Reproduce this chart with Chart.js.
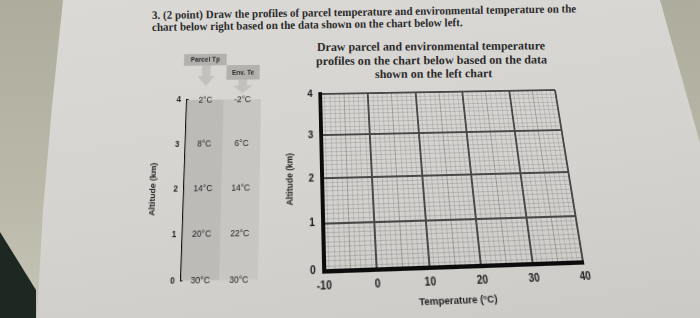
<!DOCTYPE html>
<html>
<head>
<meta charset="utf-8">
<title>Parcel and environmental temperature</title>
<script src="https://cdn.jsdelivr.net/npm/chart.js@4.4.1/dist/chart.umd.min.js"></script>
<style>
  html, body { margin: 0; padding: 0; }
  body { position: relative; width: 700px; height: 318px; overflow: hidden; background: #b2b0a0; }
  .wall { position: absolute; inset: 0; background: linear-gradient(180deg, #aeac9c 0%, #bab8a8 60%, #c6c4b6 100%); }
  .wall-dark { position: absolute; inset: 0; background: #1d2822; clip-path: polygon(0 232px, 36px 290px, 36px 318px, 0 318px); }
  .paper { position: absolute; inset: 0; background: linear-gradient(170deg, #dbd9d6 0%, #d5d3d0 55%, #cccac7 100%);
           clip-path: polygon(63px 0, 660px 0, 700px 143px, 700px 318px, 37px 318px, 43px 210px, 52px 106px); }
  .note { position: absolute; white-space: nowrap; font-family: "Liberation Serif", serif; font-weight: bold;
          color: #2b2b2b; line-height: 14px; transform-origin: 0 50%; }
  canvas { position: absolute; left: 0; top: 0; transform-origin: 0 0; }
</style>
</head>
<body>
<div class="wall"></div>
<div class="wall-dark"></div>
<div class="paper"></div>

<div class="note" id="q1">3. (2 point) Draw the profiles of parcel temperature and environmental temperature on the</div>
<div class="note" id="q2">chart below right based on the data shown on the chart below left.</div>
<div class="note" id="r1">Draw parcel and environmental temperature</div>
<div class="note" id="r2">profiles on the chart below based on the data</div>
<div class="note" id="r3">shown on the left chart</div>

<canvas id="leftChart" width="130" height="245"></canvas>
<canvas id="rightChart" width="310" height="230"></canvas>

<script>
// Data
const columns = ['Parcel Tp', 'Env. Te'];
const altitudes = [0, 1, 2, 3, 4];
const parcelTemps = [30, 20, 14, 8, 2];
const envTemps = [30, 22, 14, 6, -2];

// Axes of the blank chart on the right
const tempTicks = [-10, 0, 10, 20, 30, 40];
const altitudeTicks = [0, 1, 2, 3, 4];

Chart.defaults.font.family = '"Liberation Sans", Arial, sans-serif';
Chart.defaults.color = '#1e1e1e';

// Text lines of the worksheet (left edge, centre y, width, tilt)
const notes = [
    { id: 'q1', x: 152, y: 14.5, w: 424, rot: -0.9, size: 11.5 },
    { id: 'q2', x: 152, y: 27, w: 311, rot: -0.9, size: 11.5 },
    { id: 'r1', x: 317, y: 47, w: 228, rot: -0.4, size: 12 },
    { id: 'r2', x: 316, y: 60.5, w: 231, rot: -0.4, size: 12 },
    { id: 'r3', x: 375, y: 73.5, w: 117, rot: -0.4, size: 12 }
];

notes.forEach(n => {
    const el = document.getElementById(n.id);
    el.style.fontSize = n.size + 'px';
    el.style.left = n.x + 'px';
    el.style.top = (n.y - 7) + 'px';
    const s = n.w / el.offsetWidth;
    el.style.transform = `rotate(${n.rot}deg) scaleX(${s})`;
});

// Solve the projective map that puts a chart area onto the photographed quad
function solve(A, b) {
    const n = b.length;
    for (let i = 0; i < n; i++) {
        let p = i;
        for (let r = i + 1; r < n; r++) if (Math.abs(A[r][i]) > Math.abs(A[p][i])) p = r;
        [A[i], A[p]] = [A[p], A[i]];
        [b[i], b[p]] = [b[p], b[i]];
        for (let r = i + 1; r < n; r++) {
            const f = A[r][i] / A[i][i];
            for (let c = i; c < n; c++) A[r][c] -= f * A[i][c];
            b[r] -= f * b[i];
        }
    }
    const x = new Array(n).fill(0);
    for (let i = n - 1; i >= 0; i--) {
        let s = b[i];
        for (let c = i + 1; c < n; c++) s -= A[i][c] * x[c];
        x[i] = s / A[i][i];
    }
    return x;
}

function warpChart(chart, quad) {
    const a = chart.chartArea;
    const src = [[a.left, a.top], [a.right, a.top], [a.left, a.bottom], [a.right, a.bottom]];
    const A = [], b = [];
    src.forEach(([x, y], i) => {
        const [u, v] = quad[i];
        A.push([x, y, 1, 0, 0, 0, -u * x, -u * y]); b.push(u);
        A.push([0, 0, 0, x, y, 1, -v * x, -v * y]); b.push(v);
    });
    const h = solve(A, b);
    chart.canvas.style.transform =
        `matrix3d(${h[0]},${h[3]},0,${h[6]},${h[1]},${h[4]},0,${h[7]},0,0,1,0,${h[2]},${h[5]},0,1)`;
}

// Header boxes with arrows and the temperature labels of the left chart
const headerLayout = [
    { boxTop: -47, boxHeight: 12, left: -5, right: 2, tip: -14, headLen: 10, shaft: 10, head: 20 },
    { boxTop: -35, boxHeight: 15, left: 2, right: -2, tip: -6, headLen: 8, shaft: 10, head: 22 }
];

const profileLabels = {
    id: 'profileLabels',
    afterDatasetsDraw(chart) {
        const { ctx, chartArea } = chart;
        const yScale = chart.scales.y;
        const bars = chart.getDatasetMeta(0).data;
        const series = [parcelTemps, envTemps];
        ctx.save();

        bars.forEach((bar, i) => {
            const L = headerLayout[i];
            const half = bar.width / 2;
            const bx0 = bar.x - half + L.left;
            const bx1 = bar.x + half + L.right;
            const by0 = chartArea.top + L.boxTop;
            const by1 = by0 + L.boxHeight;
            const tipY = chartArea.top + L.tip;

            // arrow
            ctx.fillStyle = '#c3c1be';
            ctx.fillRect(bar.x - L.shaft / 2, by1, L.shaft, tipY - L.headLen - by1);
            ctx.beginPath();
            ctx.moveTo(bar.x - L.head / 2, tipY - L.headLen);
            ctx.lineTo(bar.x + L.head / 2, tipY - L.headLen);
            ctx.lineTo(bar.x, tipY);
            ctx.closePath();
            ctx.fill();

            // box
            ctx.fillStyle = '#b3b1ae';
            ctx.fillRect(bx0, by0, bx1 - bx0, by1 - by0);
            ctx.fillStyle = '#2c2c2c';
            ctx.font = 'bold 7.5px "Liberation Sans", Arial, sans-serif';
            ctx.textAlign = 'center';
            ctx.textBaseline = 'middle';
            ctx.fillText(columns[i], (bx0 + bx1) / 2, (by0 + by1) / 2);

            // temperatures along the column
            ctx.font = '9.5px "Liberation Sans", Arial, sans-serif';
            ctx.fillStyle = '#242424';
            series[i].forEach((t, j) => {
                ctx.fillText(t + '°C', bar.x, yScale.getPixelForValue(altitudes[j]));
            });
        });
        ctx.restore();
    }
};

const leftChart = new Chart(document.getElementById('leftChart'), {
    type: 'bar',
    data: {
        labels: columns,
        datasets: [{
            data: columns.map(() => [altitudes[0], altitudes[altitudes.length - 1]]),
            backgroundColor: ['#bdbbb8', '#c8c6c3'],
            borderWidth: 0,
            barPercentage: 1,
            categoryPercentage: 1
        }]
    },
    options: {
        responsive: false,
        animation: false,
        layout: { padding: { top: 56, right: 4, bottom: 8, left: 2 } },
        plugins: { legend: { display: false }, tooltip: { enabled: false } },
        scales: {
            x: { display: false },
            y: {
                min: altitudes[0],
                max: altitudes[altitudes.length - 1],
                ticks: { stepSize: 1, padding: 7, font: { size: 9, weight: 'bold' }, color: '#1e1e1e' },
                grid: { drawOnChartArea: false, drawTicks: false, color: 'transparent' },
                border: { display: true, color: '#111111', width: 3 },
                title: {
                    display: true,
                    text: 'Altitude (km)',
                    font: { size: 8.5, weight: 'bold' },
                    color: '#222222',
                    padding: { top: 0, bottom: 10 }
                }
            }
        }
    },
    plugins: [profileLabels]
});

const isMajorTemp = v => tempTicks.some(t => Math.abs(t - v) < 1e-6);
const isMajorAlt = v => altitudeTicks.some(a => Math.abs(a - v) < 1e-6);

const rightChart = new Chart(document.getElementById('rightChart'), {
    type: 'scatter',
    data: {
        datasets: [
            { label: columns[0], data: [] },
            { label: columns[1], data: [] }
        ]
    },
    options: {
        responsive: false,
        animation: false,
        layout: { padding: { top: 8, right: 14, bottom: 4, left: 2 } },
        plugins: { legend: { display: false }, tooltip: { enabled: false } },
        scales: {
            x: {
                type: 'linear',
                min: tempTicks[0],
                max: tempTicks[tempTicks.length - 1],
                ticks: {
                    stepSize: 1,
                    maxTicksLimit: 1000,
                    autoSkip: false,
                    maxRotation: 0,
                    padding: 8,
                    font: { size: 10, weight: 'bold' },
                    color: '#1a1a1a',
                    callback: v => isMajorTemp(v) ? Math.round(v) : ''
                },
                grid: {
                    drawTicks: false,
                    color: c => isMajorTemp(c.tick.value) ? '#474747'
                        : (Math.abs(c.tick.value % 5) < 1e-6 ? 'rgba(70,70,70,0.38)' : 'rgba(80,80,80,0.2)'),
                    lineWidth: c => isMajorTemp(c.tick.value) ? 2 : 1
                },
                border: { color: '#0c0c0c', width: 4 },
                title: {
                    display: true,
                    text: 'Temperature (°C)',
                    font: { size: 9.5, weight: 'bold' },
                    color: '#222222',
                    padding: { top: -3, bottom: 0 }
                }
            },
            y: {
                min: altitudeTicks[0],
                max: altitudeTicks[altitudeTicks.length - 1],
                ticks: {
                    stepSize: 0.1,
                    maxTicksLimit: 1000,
                    autoSkip: false,
                    padding: 8,
                    font: { size: 10, weight: 'bold' },
                    color: '#1a1a1a',
                    callback: v => isMajorAlt(v) ? Math.round(v) : ''
                },
                grid: {
                    drawTicks: false,
                    color: c => isMajorAlt(c.tick.value) ? '#474747' : 'rgba(80,80,80,0.22)',
                    lineWidth: c => isMajorAlt(c.tick.value) ? 2 : 1
                },
                border: { color: '#0c0c0c', width: 4 },
                title: {
                    display: true,
                    text: 'Altitude (km)',
                    font: { size: 8.5, weight: 'bold' },
                    color: '#222222',
                    padding: { top: 0, bottom: 5 }
                }
            }
        }
    }
});

// Corners of each plotting area as they appear on the photographed sheet
warpChart(leftChart, [[187, 100], [261, 99], [181, 281], [258, 280]]);
warpChart(rightChart, [[320, 94], [555, 90], [324, 271], [583, 262]]);
</script>
</body>
</html>
